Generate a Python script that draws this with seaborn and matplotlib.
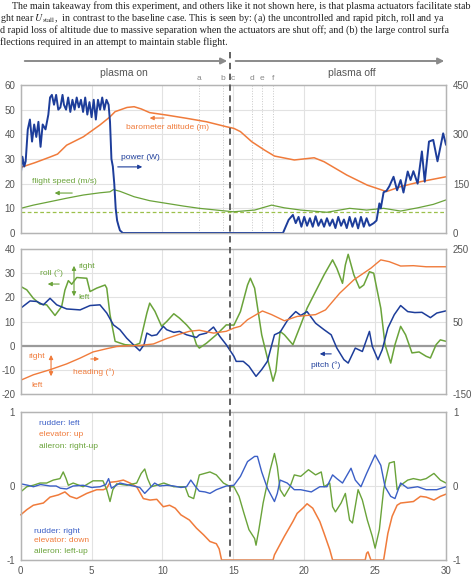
import numpy as np
import pandas as pd
import matplotlib.pyplot as plt
import seaborn as sns

# ---------------- data ----------------
# panel 1: power (W, right axis), barometer altitude (m), flight speed (m/s)
power_t = [0.00, 0.12, 0.25, 0.35, 0.50, 0.65, 0.80, 0.95, 1.10, 1.25, 1.40, 1.55, 1.75, 1.95,
           2.07, 2.20, 2.35, 2.50, 2.65, 2.80, 2.95, 3.05, 3.20, 3.35, 3.50, 3.65, 3.80, 3.95,
           4.10, 4.25, 4.40, 4.55, 4.70, 4.85, 5.00, 5.15, 5.30, 5.45, 5.60, 5.75, 5.90, 6.05,
           6.20, 6.30, 6.40, 6.50, 6.60, 6.70, 6.80, 6.90, 7.00, 7.20, 18.50, 18.90, 19.20,
           19.40, 19.60, 19.80, 20.00, 20.20, 20.40, 20.60, 20.80, 21.00, 21.20, 21.40, 21.60,
           21.80, 22.00, 22.20, 22.40, 22.60, 22.80, 23.00, 23.20, 23.40, 23.60, 23.80, 24.00,
           24.20, 24.40, 24.60, 24.90, 25.10, 25.30, 25.40, 25.60, 25.80, 26.00, 26.30, 26.55,
           26.80, 27.00, 27.30, 27.50, 27.70, 28.00, 28.30, 28.50, 28.80, 29.10, 29.40, 29.80, 30.00]
power_w = [176, 232, 202, 218, 315, 345, 278, 330, 292, 338, 262, 330, 315, 360,
           412, 420, 390, 420, 375, 382, 420, 390, 375, 412, 368, 405, 375, 412,
           382, 405, 368, 412, 360, 398, 352, 405, 345, 405, 375, 412, 375, 405,
           390, 338, 225, 202, 150, 75, 38, 22, 8, 0, 0, 40, 55,
           30, 49, 19, 49, 22, 45, 19, 51, 22, 41, 19, 45,
           22, 41, 15, 49, 22, 41, 15, 49, 19, 45, 14, 49,
           19, 45, 22, 30, 38, 90, 75, 124, 128, 142, 171, 130,
           161, 123, 187, 161, 188, 150, 248, 156, 278, 283, 218, 303, 268]

alt_t = [0.0, 1.0, 2.07, 2.6, 3.24, 4.42, 5.59, 6.3, 6.66, 7.5, 8.0, 8.5, 9.1, 10.3, 11.7,
         13.1, 14.5, 15.04, 15.5, 16.3, 17.2, 17.9, 19.3, 20.7, 21.4, 23.0, 24.45, 25.8,
         26.8, 28.2, 30.0]
alt_m = [26.6, 28.5, 30.8, 32.0, 35.6, 39.0, 43.8, 47.1, 49.2, 50.9, 51.2, 50.3, 48.8, 47.8,
         46.5, 45.1, 43.1, 42.4, 41.1, 37.0, 33.6, 31.2, 29.6, 30.5, 28.9, 23.5, 19.4, 16.8,
         18.8, 20.8, 22.8]

speed_t = [0.0, 0.89, 2.07, 3.24, 4.42, 5.59, 6.3, 6.54, 7.0, 8.0, 9.1, 10.3, 11.5, 12.6,
           13.8, 15.0, 16.5, 17.7, 18.6, 19.75, 21.6, 23.2, 24.4, 25.6, 26.8, 28.0, 29.1, 30.0]
speed_ms = [10.0, 11.3, 12.7, 14.1, 15.4, 16.3, 16.7, 17.6, 16.9, 14.7, 13.1, 12.0, 10.9, 10.0,
            9.3, 8.6, 9.3, 11.3, 10.2, 9.3, 8.4, 10.0, 9.3, 10.0, 8.9, 10.2, 11.6, 13.4]
stall_speed = 8.6

# panel 2: roll, pitch (deg, left axis), heading (deg, right axis)
roll_t = [0.0, 0.43, 0.89, 1.36, 1.83, 2.42, 2.89, 3.12, 3.36, 3.6, 3.95, 4.66, 4.89, 5.36,
          5.95, 6.07, 6.3, 6.66, 7.0, 7.36, 8.0, 8.4, 8.9, 9.1, 9.47, 9.94, 10.3, 10.8, 11.2,
          11.7, 12.1, 12.4, 12.6, 13.1, 13.8, 14.5, 15.04, 15.5, 16.0, 16.2, 16.5, 17.0, 17.4,
          17.8, 18.0, 18.3, 18.6, 19.2, 19.75, 20.2, 20.8, 21.4, 22.0, 22.3, 22.7, 22.9, 23.1,
          23.5, 23.9, 24.2, 24.6, 24.9, 25.4, 25.7, 26.1, 26.4, 26.8, 27.15, 27.6, 28.1, 28.6,
          28.9, 29.3, 29.6, 30.0]
roll_deg = [24.5, 23.1, 19.6, 17.2, 16.9, 12.5, 16.2, 23.0, 26.9, 25.4, 28.2, 27.9, 22.4, 23.8,
            25.1, 23.8, 12.8, 1.8, 1.1, 0.4, 0.1, 1.0, 13.5, 17.6, 14.2, 8.0, 10.0, 13.2, 11.4,
            8.6, 5.9, 0.4, -1.0, 1.0, 4.5, 8.6, 8.5, 14.1, 25.1, 27.9, 23.8, 4.5, -5.1,
            -14.7, -10.6, 5.9, 4.5, 0.4, 8.6, 15.5, 22.4, 29.3, 35.5, 32.0, 25.8, 33.4, 37.8,
            29.3, 23.8, 25.1, 30.6, 30.0, 15.5, 0.4, -7.2, 0.4, 8.0, 4.5, -3.0, -2.6, -4.4,
            -5.1, 0.4, 2.4, 1.8]

pitch_t = [0.0, 0.66, 1.13, 1.6, 2.07, 2.54, 3.24, 4.19, 4.89, 5.59, 6.07, 6.54, 7.0, 7.48,
           7.95, 8.4, 8.7, 8.9, 9.24, 9.6, 10.06, 10.3, 10.8, 11.2, 11.7, 12.4, 12.6, 13.1,
           13.6, 14.05, 14.5, 15.04, 15.2, 15.7, 16.1, 16.6, 17.0, 17.4, 17.9, 18.3, 18.8,
           19.0, 19.4, 19.75, 20.2, 20.8, 21.4, 21.9, 22.3, 22.8, 23.1, 23.6, 24.1, 24.6, 24.8,
           25.2, 25.5, 25.9, 26.35, 26.8, 27.3, 27.8, 28.3, 28.9, 29.35, 30.0]
pitch_deg = [15.5, 18.5, 18.3, 16.9, 19.6, 16.9, 15.2, 14.8, 16.6, 16.9, 13.5, 8.6, 6.6, 3.1,
             0.4, -2.1, 0.4, 5.2, 4.1, 4.5, 8.0, 6.6, 5.5, 5.9, 4.5, 3.4, 4.5, 5.2,
             7.7, 3.8, 0.4, -4.4, -6.5, -6.5, -8.5, -12.7, -9.9, -6.5, 4.5, 5.6, 10.3,
             11.7, 14.1, 12.5, 14.1, 9.3, 6.6, 4.5, -1.0, -5.8, -7.2, -1.0, -2.4, 5.9, -0.3,
             -5.8, -1.7, 7.3, 12.8, 16.6, 14.1, 13.7, 13.8, 11.6, 13.5, 14.4]

heading_t = [0.0, 0.89, 2.07, 3.24, 4.19, 5.1, 6.07, 6.77, 7.48, 8.4, 9.36, 10.3, 11.2, 11.9,
             12.6, 13.6, 14.5, 15.04, 15.5, 16.0, 17.05, 17.7, 18.6, 19.5, 20.8, 21.5, 22.5,
             23.5, 24.7, 25.4, 26.0, 26.8, 27.7, 28.6, 30.0]
heading_deg = [-112, -97, -83, -67, -51, -34, -25, -19, -17, -16, -12, 3, 15, 23,
               26, 18, 23, 32, 37, 55, 79, 69, 52, 64, 69, 82, 128,
               165, 197, 220, 215, 203, 204, 201, 201]

# panel 3: control surface deflections (normalised)
elev_t = [0.0, 0.43, 0.89, 1.6, 2.07, 2.66, 3.12, 3.48, 3.95, 4.66, 5.36, 5.83, 6.07, 6.3,
          6.77, 7.24, 7.71, 8.18, 8.65, 9.12, 9.6, 10.06, 10.5, 10.9, 11.3, 11.9, 12.4, 12.9,
          13.35, 13.8, 14.0, 14.17, 17.8, 17.9, 18.6, 19.2, 19.5, 19.9, 20.2, 20.6, 21.1,
          21.4, 21.8, 22.0, 24.3, 24.4, 24.5, 24.7, 25.6, 25.9, 26.2, 26.55, 26.8, 27.7, 28.2,
          28.6, 29.15, 29.6, 30.0]
elev = [-0.39, -0.32, -0.26, -0.23, -0.15, -0.12, -0.08, -0.14, -0.17, -0.10, -0.05, -0.05,
        -0.03, 0.05, 0.06, 0.08, 0.04, -0.01, -0.17, -0.19, -0.18, -0.28, -0.26, -0.30,
        -0.39, -0.46, -0.57, -0.66, -0.75, -0.78, -0.85, -1.0, -1.0, -0.93, -0.68, -0.48,
        -0.37, -0.30, -0.24, -0.30, -0.48, -0.64, -0.86, -1.0, -1.0, -0.91, -0.89, -1.0,
        -1.0, -0.64, -0.41, -0.26, -0.23, -0.21, -0.14, -0.15, -0.19, -0.14, -0.11]

rudder_t = [0.0, 0.5, 0.9, 1.4, 2.07, 2.5, 2.8, 3.24, 3.7, 4.4, 5.0, 5.6, 6.0, 6.2, 6.4, 7.0,
            7.7, 8.4, 8.75, 9.1, 9.45, 9.8, 10.3, 10.8, 11.3, 11.7, 12.0, 12.3, 12.6, 13.0,
            13.35, 13.8, 14.5, 15.04, 15.5, 16.0, 16.5, 16.7, 17.0, 17.4, 17.9, 18.1, 18.3,
            18.8, 19.3, 19.75, 20.5, 21.1, 21.6, 22.0, 22.3, 22.7, 23.3, 23.6, 24.0, 24.4,
            25.0, 25.4, 25.7, 26.1, 26.4, 26.8, 27.3, 28.0, 28.6, 29.35, 30.0]
rudder = [0.03, 0.01, -0.01, 0.02, 0.0, 0.0, -0.03, -0.04, 0.0, 0.01, -0.02, -0.01, 0.02,
          0.10, -0.03, 0.04, 0.01, -0.02, -0.10, -0.03, 0.04, 0.0, 0.01, 0.0, -0.02, -0.01,
          0.08, 0.0, -0.07, -0.08, -0.10, -0.05, 0.0, 0.01, 0.13, 0.33, 0.40, 0.40, 0.19,
          -0.03, -0.21, -0.10, 0.08, 0.04, -0.05, -0.05, -0.08, -0.01, -0.01, 0.15, 0.10,
          0.04, 0.24, 0.08, -0.01, 0.17, 0.42, 0.28, -0.01, -0.14, -0.17, 0.04, -0.03, -0.01,
          -0.05, -0.05, -0.01]

ail_t = [0.0, 0.43, 0.89, 1.36, 1.83, 2.3, 2.77, 3.0, 3.2, 3.36, 3.7, 4.4, 5.1, 5.8, 6.07,
         6.3, 6.5, 6.77, 7.5, 8.18, 8.5, 8.75, 8.95, 9.2, 9.6, 10.1, 10.8, 11.6, 11.85, 12.2,
         12.4, 12.6, 13.35, 13.8, 14.3, 14.8, 15.04, 15.4, 15.75, 16.1, 16.5, 16.6, 16.8,
         17.1, 17.3, 17.6, 17.9, 18.1, 18.3, 18.6, 19.0, 19.3, 19.75, 20.3, 20.8, 21.2, 21.4,
         21.8, 22.0, 22.2, 22.6, 22.9, 23.2, 23.4, 23.8, 24.1, 24.45, 24.8, 25.0, 25.3, 25.6,
         26.0, 26.35, 26.55, 26.8, 27.3, 27.7, 28.2, 28.6, 29.15, 29.6, 30.0]
aileron = [-0.08, -0.01, 0.01, 0.04, 0.04, 0.08, 0.10, 0.19, 0.10, 0.01, 0.04, -0.01, 0.07,
           0.07, -0.05, -0.21, -0.05, 0.03, 0.01, 0.04, 0.17, 0.23, 0.10, -0.01, 0.01, 0.04,
           -0.01, -0.01, -0.14, -0.17, -0.01, 0.15, 0.19, 0.15, 0.04, -0.01, -0.01, -0.14,
           -0.37, -0.59, -0.71, -0.80, -0.59, -0.23, -0.05, 0.22, 0.44, 0.26, -0.05, -0.14,
           -0.01, 0.15, 0.13, 0.22, 0.15, 0.19, -0.01, 0.04, -0.28, -0.35, -0.23, -0.10,
           -0.46, -0.50, -0.05, -0.19, -0.46, -0.68, -0.84, -0.59, -0.05, 0.31, 0.33, -0.05,
           0.01, 0.08, 0.10, 0.08, 0.10, 0.17, 0.08, 0.04]

# events
plasma_off_t = 14.76
event_labels = ['a', 'b', 'c', 'd', 'e', 'f']
event_t = [12.57, 14.27, 14.97, 16.31, 17.0, 17.8]

# ---------------- style ----------------
sns.set_style("white")
plt.rcParams['font.family'] = ['Liberation Sans', 'DejaVu Sans']
plt.rcParams['mathtext.fontset'] = 'stix'
plt.rcParams['axes.unicode_minus'] = False

BLUE = '#1d3d9a'
ORANGE = '#f07b3b'
GREEN = '#6aa33a'
RBLUE = '#3b5fc6'
FRAME = '#b4b4b4'
GRID = '#e2e2e2'
TICK = '#555555'

W, H = 474, 578
fig = plt.figure(figsize=(W / 100, H / 100), dpi=100)


def box(top, bottom, left=20.7, right=446):
    return [left / W, 1 - bottom / H, (right - left) / W, (bottom - top) / H]


def style(ax, yticks, show_x=False):
    ax.set_xlim(0, 30)
    ax.set_yticks(yticks)
    ax.set_xticks([0, 5, 10, 15, 20, 25, 30])
    for v in [5, 10, 15, 20, 25]:
        ax.axvline(v, color=GRID, lw=0.8, zorder=0)
    for s in ax.spines.values():
        s.set_color(FRAME)
        s.set_linewidth(0.9)
    ax.tick_params(length=0, labelsize=7, colors=TICK, pad=4)
    if not show_x:
        ax.set_xticklabels([])
    ax.set_xlabel('')
    ax.set_ylabel('')


def twin_style(tw, lim, ticks):
    tw.set_ylim(*lim)
    tw.set_yticks(ticks)
    tw.tick_params(length=0, labelsize=7, colors=TICK, pad=5)
    for s in tw.spines.values():
        s.set_color(FRAME)
        s.set_linewidth(0.9)
    tw.set_ylabel('')
    tw.grid(False)


# ---------------- panel 1 ----------------
ax1 = fig.add_axes(box(85, 233))
ax1.set_ylim(0, 60)
for v in range(10, 60, 10):
    ax1.axhline(v, color=GRID, lw=0.8, zorder=0)
for t in event_t:
    ax1.axvline(t, color='#c8c8c8', lw=0.7, ls=':', zorder=0)
ax1.axhline(stall_speed, color='#9cc04a', lw=0.9, ls=(0, (3, 2)))
sns.lineplot(x=alt_t, y=alt_m, ax=ax1, color=ORANGE, lw=1.1, estimator=None)
sns.lineplot(x=speed_t, y=speed_ms, ax=ax1, color=GREEN, lw=0.9, estimator=None)
style(ax1, range(0, 70, 10))
tw1 = ax1.twinx()
sns.lineplot(x=power_t, y=power_w, ax=tw1, color=BLUE, lw=1.4, estimator=None)
twin_style(tw1, (0, 450), [0, 150, 300, 450])

ax1.text(7.43, 42.6, 'barometer altitude (m)', color=ORANGE, fontsize=6, va='center')
ax1.annotate('', xy=(8.9, 46.6), xytext=(10.3, 46.6),
             arrowprops=dict(arrowstyle='-|>', color=ORANGE, lw=0.8, mutation_scale=6))
ax1.text(7.07, 30.8, 'power (W)', color=BLUE, fontsize=6, va='center')
ax1.annotate('', xy=(8.77, 26.8), xytext=(6.65, 26.8),
             arrowprops=dict(arrowstyle='-|>', color=BLUE, lw=0.8, mutation_scale=6))
ax1.text(0.8, 20.7, 'flight speed (m/s)', color=GREEN, fontsize=6, va='center')
ax1.annotate('', xy=(2.2, 16.2), xytext=(3.83, 16.2),
             arrowprops=dict(arrowstyle='-|>', color=GREEN, lw=0.8, mutation_scale=6))

# ---------------- panel 2 ----------------
ax2 = fig.add_axes(box(249, 394))
ax2.set_ylim(-20, 40)
for v in [-10, 10, 20, 30]:
    ax2.axhline(v, color=GRID, lw=0.8, zorder=0)
ax2.axhline(0, color='#9a9a9a', lw=1.6, zorder=1)
sns.lineplot(x=roll_t, y=roll_deg, ax=ax2, color=GREEN, lw=1.1, estimator=None)
sns.lineplot(x=pitch_t, y=pitch_deg, ax=ax2, color=BLUE, lw=1.1, estimator=None)
style(ax2, range(-20, 50, 10))
tw2 = ax2.twinx()
sns.lineplot(x=heading_t, y=heading_deg, ax=tw2, color=ORANGE, lw=1.0, estimator=None)
twin_style(tw2, (-150, 250), [-150, 50, 250])

ax2.text(1.36, 30.1, 'roll (°)', color=GREEN, fontsize=6, va='center')
ax2.annotate('', xy=(1.71, 25.5), xytext=(2.91, 25.5),
             arrowprops=dict(arrowstyle='-|>', color=GREEN, lw=0.8, mutation_scale=6))
ax2.annotate('', xy=(3.76, 34.2), xytext=(3.76, 19.3),
             arrowprops=dict(arrowstyle='<|-|>', color=GREEN, lw=0.8, mutation_scale=6))
ax2.text(4.04, 32.7, 'right', color=GREEN, fontsize=6, va='center')
ax2.text(4.04, 20.1, 'left', color=GREEN, fontsize=6, va='center')
ax2.annotate('', xy=(2.14, -2.7), xytext=(2.14, -13.8),
             arrowprops=dict(arrowstyle='<|-|>', color=ORANGE, lw=0.8, mutation_scale=6))
ax2.text(0.52, -4.3, 'right', color=ORANGE, fontsize=6, va='center')
ax2.text(0.72, -16.3, 'left', color=ORANGE, fontsize=6, va='center')
ax2.text(3.69, -10.9, 'heading (°)', color=ORANGE, fontsize=6, va='center')
ax2.annotate('', xy=(5.73, -5.5), xytext=(4.75, -5.5),
             arrowprops=dict(arrowstyle='-|>', color=ORANGE, lw=0.8, mutation_scale=6))
ax2.text(20.5, -8.0, 'pitch (°)', color=BLUE, fontsize=6, va='center')
ax2.annotate('', xy=(20.9, -3.4), xytext=(22.1, -3.4),
             arrowprops=dict(arrowstyle='-|>', color=BLUE, lw=0.8, mutation_scale=6))

# ---------------- panel 3 ----------------
ax3 = fig.add_axes(box(412, 560))
ax3.set_ylim(-1, 1)
ax3.axhline(0, color=GRID, lw=0.8, zorder=0)
sns.lineplot(x=elev_t, y=elev, ax=ax3, color=ORANGE, lw=1.1, estimator=None, clip_on=False)
sns.lineplot(x=ail_t, y=aileron, ax=ax3, color=GREEN, lw=1.0, estimator=None)
sns.lineplot(x=rudder_t, y=rudder, ax=ax3, color=RBLUE, lw=1.0, estimator=None)
style(ax3, [-1, 0, 1], show_x=True)
tw3 = ax3.twinx()
twin_style(tw3, (-1, 1), [-1, 0, 1])

for y, s, c in [(0.84, 'rudder: left', RBLUE), (0.70, 'elevator: up', ORANGE),
                (0.54, 'aileron: right-up', GREEN)]:
    ax3.text(1.29, y, s, color=c, fontsize=6, va='center')
for y, s, c in [(-0.61, 'rudder: right', RBLUE), (-0.74, 'elevator: down', ORANGE),
                (-0.89, 'aileron: left-up', GREEN)]:
    ax3.text(0.94, y, s, color=c, fontsize=6, va='center')

# ---------------- header overlay (y in pixels) ----------------
ov = fig.add_axes(box(48, 560), zorder=10)
ov.set_xlim(0, 30)
ov.set_ylim(560, 48)
ov.axis('off')
ov.patch.set_alpha(0)
ov.vlines(plasma_off_t, 52, 560, color='#555555', lw=1.3, linestyles=(0, (3.5, 2.5)))
ov.annotate('', xy=(plasma_off_t, 61), xytext=(0.09, 61),
            arrowprops=dict(arrowstyle='-|>', color='#8a8a8a', lw=1.4, mutation_scale=9))
ov.annotate('', xy=(30.07, 61), xytext=(14.97, 61), annotation_clip=False,
            arrowprops=dict(arrowstyle='-|>', color='#8a8a8a', lw=1.4, mutation_scale=9))
ov.text(7.29, 73, 'plasma on', color='#555555', fontsize=7.5, ha='center', va='center')
ov.text(23.36, 73, 'plasma off', color='#555555', fontsize=7.5, ha='center', va='center')
for s, t in zip(event_labels, event_t):
    ov.text(t, 79, s, color='#888888', fontsize=6, ha='center', va='center')

# ---------------- paper text above the figure (cropped as in the source) ----------------
lines = [
    (12, 6, 'The main takeaway from this experiment, and others like it not shown here, is that plasma actuators facilitate stab'),
    (0, 18, r'ght near $U_{\rm stall}$,  in contrast to the baseline case. This is seen by: (a) the uncontrolled and rapid pitch, roll and ya'),
    (0, 30, 'd rapid loss of altitude due to massive separation when the actuators are shut off; and (b) the large control surfa'),
    (0, 42, 'flections required in an attempt to maintain stable flight.'),
]
for x, y, s in lines:
    fig.text(x / W, 1 - y / H, s, fontsize=7.2, va='center', ha='left',
             family=['Liberation Serif', 'DejaVu Serif'], color='#222222')

fig.savefig('out.png', dpi=100)
